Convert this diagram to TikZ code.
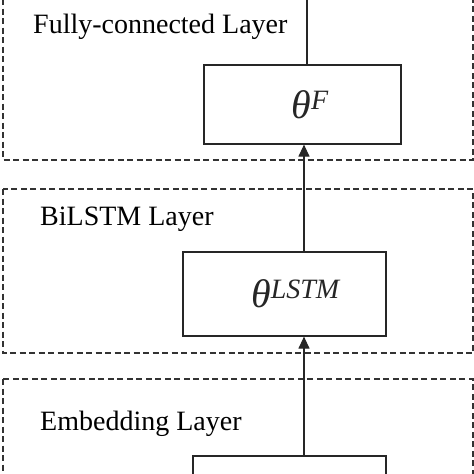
\documentclass[tikz,border=0pt]{standalone}
\usepackage{fontspec}
\setmainfont{Liberation Serif}
\usetikzlibrary{arrows.meta}
\usetikzlibrary{calc}

\begin{document}
\begin{tikzpicture}[x=1pt, y=-1pt,
  line/.style={>={Triangle[length=12pt, width=11pt]}, line width=1.2pt, color=black!85},
  layer/.style={dash pattern=on 6pt off 3.5pt, line width=1.2pt, color=black!80},
  layername/.style={anchor=base west, inner sep=0pt, font=\fontsize{28}{30}\selectfont},
  param/.style={draw, line width=1.2pt, color=black!85, inner sep=0pt, font=\fontsize{40}{44}\selectfont\itshape}]
\useasboundingbox (0, 0) rectangle (474, 474);
\clip (0, 0) rectangle (474, 474);

\coordinate (out) at (307, -10);
\coordinate (axis) at (304, 0);

% dashed layer frames
\draw[layer] (3, -20) rectangle (473, 160);
\draw[layer] (3, 189) rectangle (473, 353);
\draw[layer] (3, 379) rectangle (473, 520);

\node[layername] (fcname) at (33, 33) {Fully-connected Layer};
\node[layername] (lstmname) at (40, 225) {BiLSTM Layer};
\node[layername] (embname) at (40, 430) {Embedding Layer};

\node[param, minimum width=197pt, minimum height=79pt] (F) at (302.5, 104.5) {\hspace*{15pt}θ\textsuperscript{F}};
\node[param, minimum width=203pt, minimum height=84pt] (LSTM) at (284.5, 294) {\hspace*{22pt}θ\textsuperscript{LSTM}};
\node[param, minimum width=193pt, minimum height=84pt] (emb) at (289.5, 498) {};

\draw[line] (out |- F.north) -- (out);
\draw[->, line] (axis |- LSTM.north) -- (axis |- F.south);
\draw[->, line] (axis |- emb.north) -- (axis |- LSTM.south);
\end{tikzpicture}
\end{document}
